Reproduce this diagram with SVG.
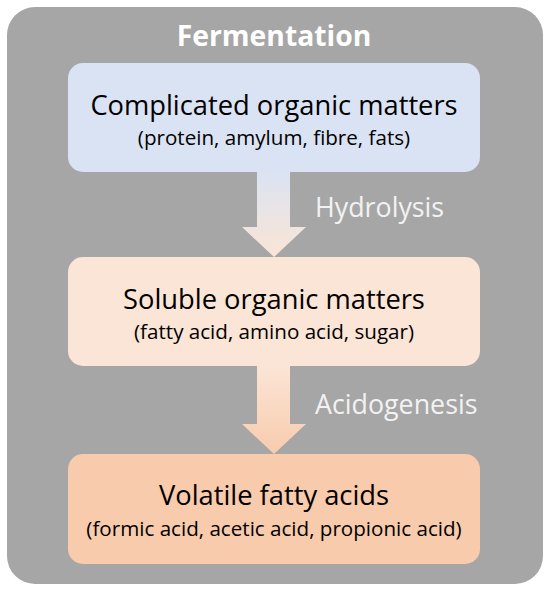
<svg xmlns="http://www.w3.org/2000/svg" width="550" height="591" viewBox="0 0 550 591">
<style>
.t{font-family:"Open Sans","Noto Sans","Liberation Sans",sans-serif;text-anchor:middle}
.main{font-size:27.3px;fill:#000}
.sub{font-size:20.6px;fill:#000}
.lbl{font-family:"Open Sans","Noto Sans","Liberation Sans",sans-serif;font-size:26.8px;fill:#f2f2f2}
</style>
<defs>
<linearGradient id="g1" x1="0" y1="0" x2="0" y2="1">
<stop offset="0" stop-color="#dae3f3"/>
<stop offset="1" stop-color="#fbe5d6"/>
</linearGradient>
<linearGradient id="g2" x1="0" y1="0" x2="0" y2="1">
<stop offset="0" stop-color="#fbe5d6"/>
<stop offset="1" stop-color="#f8cbad"/>
</linearGradient>
</defs>
<rect x="7" y="7" width="536" height="577" rx="28" fill="#a6a6a6"/>
<text class="t" x="274" y="46" font-size="28.3" font-weight="bold" fill="#fff">Fermentation</text>
<g id="connectors">
<path d="M257 171 H290 V227 H306 L274 257 L242 227 H257 Z" fill="url(#g1)"/>
<text class="lbl" x="315" y="217">Hydrolysis</text>
<path d="M257 365 H290 V424 H306 L274 454 L242 424 H257 Z" fill="url(#g2)"/>
<text class="lbl" x="315" y="414">Acidogenesis</text>
</g>
<g id="node1">
<rect x="68" y="63" width="412" height="109" rx="15" fill="#dae3f3"/>
<text class="t main" x="274" y="115">Complicated organic matters</text>
<text class="t sub" x="274" y="145">(protein, amylum, fibre, fats)</text>
</g>
<g id="node2">
<rect x="68" y="257" width="412" height="109" rx="15" fill="#fbe5d6"/>
<text class="t main" x="274" y="309">Soluble organic matters</text>
<text class="t sub" x="274" y="339">(fatty acid, amino acid, sugar)</text>
</g>
<g id="node3">
<rect x="68" y="454" width="412" height="110" rx="15" fill="#f8cbad"/>
<text class="t main" x="274" y="505">Volatile fatty acids</text>
<text class="t sub" x="274" y="536">(formic acid, acetic acid, propionic acid)</text>
</g>
</svg>
